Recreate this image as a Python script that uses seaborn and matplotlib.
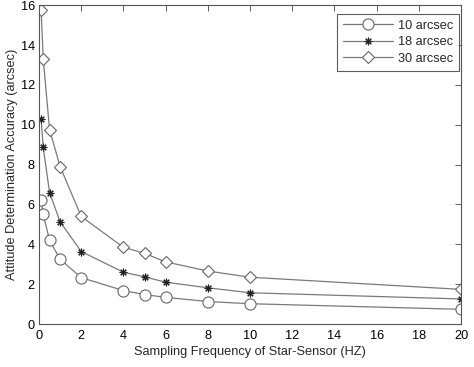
import numpy as np
import pandas as pd
import matplotlib
matplotlib.use("Agg")
import matplotlib.pyplot as plt
import seaborn as sns

# --- DATA
freq = [0.1, 0.2, 0.5, 1, 2, 4, 5, 6, 8, 10, 20]
acc_10 = [6.2, 5.5, 4.2, 3.25, 2.33, 1.68, 1.48, 1.34, 1.13, 1.02, 0.74]
acc_18 = [10.3, 8.86, 6.6, 5.13, 3.64, 2.6, 2.37, 2.1, 1.82, 1.57, 1.26]
acc_30 = [15.78, 13.3, 9.75, 7.9, 5.4, 3.85, 3.55, 3.12, 2.66, 2.35, 1.74]
labels = ["10 arcsec", "18 arcsec", "30 arcsec"]
markers = ["o", (8, 2, 0), "D"]

df = pd.DataFrame({"freq": freq * 3,
                   "acc": acc_10 + acc_18 + acc_30,
                   "series": [labels[0]] * len(freq) + [labels[1]] * len(freq) + [labels[2]] * len(freq)})

sns.set_style("white")
plt.rcParams["font.family"] = ["Liberation Sans", "DejaVu Sans"]

fig = plt.figure(figsize=(4.74, 3.67), dpi=100)
# axes box: x 39..461 px, y 5..324 px
ax = fig.add_axes([0.0823, 0.117, 0.8903, 0.869])

line_gray = "#7a7a7a"
for lab, mk in zip(labels, markers):
    sub = df[df["series"] == lab]
    if mk == "D":
        kw = dict(markersize=6.5, markerfacecolor="white", markeredgecolor="#666666", markeredgewidth=0.8)
    elif mk == "o":
        kw = dict(markersize=8, markerfacecolor="white", markeredgecolor="#666666", markeredgewidth=0.8)
    else:
        kw = dict(markersize=5.5, markerfacecolor="#222222", markeredgecolor="#222222", markeredgewidth=0.8)
    sns.lineplot(data=sub, x="freq", y="acc", ax=ax, color=line_gray, linewidth=0.9,
                 marker=mk, label=lab, **kw)

ax.set_xlim(0, 20)
ax.set_ylim(0, 16)
ax.set_xticks(np.arange(0, 21, 2))
ax.set_yticks(np.arange(0, 17, 2))
ax.tick_params(direction="in", top=True, right=True, length=4, width=0.6,
               labelsize=9.2, colors="#444444", pad=3)
ax.tick_params(axis="x", pad=4.5)
ax.tick_params(labelcolor="black")
for s in ax.spines.values():
    s.set_color("#555555")
    s.set_linewidth(0.8)

ax.set_xlabel("Sampling Frequency of Star-Sensor (HZ)", fontsize=9.2, labelpad=3)
ax.set_ylabel("Attitude Determination Accuracy (arcsec)", fontsize=9.2, labelpad=2)

leg = ax.legend(loc="upper right", bbox_to_anchor=(0.995, 0.972), borderaxespad=0,
                fontsize=9.2, frameon=True, fancybox=False,
                handlelength=3.9, labelspacing=0.35, borderpad=0.45, handletextpad=0.4)
leg.get_frame().set_edgecolor("#333333")
leg.get_frame().set_linewidth(0.8)

fig.savefig("out.png", dpi=100)
